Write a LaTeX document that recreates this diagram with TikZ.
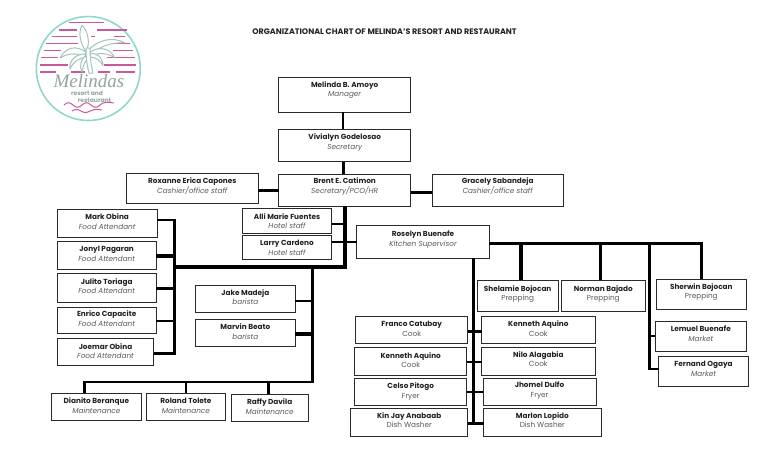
\documentclass[tikz,border=0pt]{standalone}
\usepackage{fontspec}
\setmainfont{Poppins}
\newfontfamily\logofont{Liberation Serif}
\definecolor{rolegrey}{HTML}{5A5A5A}
\definecolor{namedark}{HTML}{222222}
\definecolor{boxedge}{HTML}{2A2A2A}
\definecolor{logoteal}{HTML}{8FD8CE}
\definecolor{logopink}{HTML}{C9599F}
\definecolor{logoleaf}{HTML}{A3C4BC}
\definecolor{logotext}{HTML}{93A5A1}
\tikzset{
  bx/.style={draw=boxedge,line width=.8pt,inner sep=0pt,outer sep=0pt,anchor=north west,fill=white},
  ln/.style={line width=2.7pt,black},
  lnthick/.style={line width=3.6pt,black},
  lnthin/.style={line width=2.2pt,black},
  stripe/.style={logopink,line width=1.2pt},
  leaf/.style={logoleaf,line width=1pt,fill=white,line join=round},
}
% name, x1, y1, x2, y2, top offset, person, role font, role
\newcommand{\orgbox}[9]{%
  \pgfmathsetmacro{\bw}{#4-#2}\pgfmathsetmacro{\bh}{#5-#3}%
  \node[bx] (#1) at (#2,#3) {\parbox[c][\bh pt][t]{\bw pt}{\centering\fontsize{7.3}{9.5}\selectfont
    \vspace*{#6pt}\rule{0pt}{6pt}{\color{namedark}\fontseries{sb}\selectfont #7}\\{\color{rolegrey}#8 #9}\par}};%
}
\begin{document}
\begin{tikzpicture}[x=1pt,y=-1pt]
\useasboundingbox (0,0) rectangle (768,466);
\fill[white] (0,0) rectangle (768,466);

% logo
\draw[logoteal,line width=1.6pt] (88.3,68.5) circle (52);
\foreach \y/\a/\b in {22.3/68.5/104.3, 30/58.5/76.5, 30/96.5/126.5, 36.7/51.5/76.5, 36.7/91/95, 36.7/113.5/124.5,
  43.3/46/78, 43.3/108.5/129.5, 50.7/43.5/61, 50.7/112.5/132.5, 57.7/41/57.5, 57.7/106.5/134.5,
  65/39.5/67.5, 65/103.5/136, 72/40/56, 72/71/85, 72/97.5/110, 72/116/135}
  \draw[stripe] (\a,\y) -- (\b,\y);
% palm
\draw[leaf] (82,25) .. controls (78,33) and (80,42) .. (86,52) .. controls (90,44) and (89,33) .. (82,25) -- cycle;
\draw[leaf] (86,52) .. controls (76,45) and (66,47) .. (60,58) .. controls (68,53) and (76,53) .. (85,56) -- cycle;
\draw[leaf] (85,54) .. controls (76,54) and (69,60) .. (70,69) .. controls (73,62) and (79,58) .. (86,57) -- cycle;
\draw[leaf] (85,56) .. controls (81,60) and (79,66) .. (82,72) .. controls (83,66) and (85,61) .. (88,58) -- cycle;
\draw[leaf] (89,50) .. controls (97,40) and (113,36) .. (125,43) .. controls (112,42) and (100,46) .. (90,55) -- cycle;
\draw[leaf] (90,52) .. controls (99,46) and (110,48) .. (115,58) .. controls (108,53) and (99,52) .. (91,56) -- cycle;
\draw[leaf] (90,54) .. controls (97,52) and (103,58) .. (103,66) .. controls (100,60) and (96,57) .. (90,57) -- cycle;
\draw[leaf] (86,48) .. controls (86,57) and (87,65) .. (89,73) -- (93,73) .. controls (91,65) and (90,57) .. (90,48) -- cycle;
\node[inner sep=0pt,text=logotext] (logoname) at (89,81) {\logofont\itshape\fontsize{19}{19}\selectfont Melindas};
\node[inner sep=0pt,text=logotext] (logoa) at (87,93.3) {\fontseries{sb}\fontsize{6}{6}\selectfont resort and};
\node[inner sep=0pt,text=logotext] (logob) at (94.5,100) {\fontseries{sb}\fontsize{6}{6}\selectfont restaurant};
\draw[logopink,line width=1pt] (64,105) .. controls (67,102) and (70,102) .. (73,105) .. controls (76,108) and (79,108) .. (82,105) .. controls (85,102) and (88,102) .. (91,105) .. controls (94,108) and (97,108) .. (100,105) .. controls (103,102) and (106,102) .. (114,103);
\draw[logopink,line width=1pt] (72,111) .. controls (75,109) and (78,109) .. (81,111) .. controls (84,113) and (87,113) .. (90,111) .. controls (93,109) and (96,109) .. (102,110);

\node[inner sep=0pt] (title) at (384.5,32) {\color{namedark}\fontseries{sb}\fontsize{8}{9}\selectfont ORGANIZATIONAL CHART OF MELINDA'S RESORT AND RESTAURANT};

% boxes
\orgbox{melinda}{278.7}{77.3}{410.7}{112}{4}{Melinda B. Amoyo}{\itshape}{Manager}
\orgbox{vivialyn}{278.7}{129.3}{410.7}{161.7}{4.6}{Vivialyn Godelosao}{\itshape}{Secretary}
\orgbox{brent}{278.7}{174}{410.7}{206}{3.6}{Brent E. Catimon}{\itshape}{Secretary/PCO/HR}
\orgbox{roxanne}{126.3}{173}{258.3}{203.3}{4.6}{Roxanne Erica Capones}{\itshape}{Cashier/office staff}
\orgbox{gracely}{432}{174}{563.3}{206}{3.6}{Gracely Sabandeja}{\itshape}{Cashier/office staff}
\orgbox{mark}{57.3}{209.7}{157}{237}{4.2}{Mark Obina}{\itshape}{Food Attendant}
\orgbox{jonyl}{57.3}{241}{156}{269.3}{4.9}{Jonyl Pagaran}{\itshape}{Food Attendant}
\orgbox{julito}{57.3}{273.3}{156}{302}{5}{Julito Toriaga}{\itshape}{Food Attendant}
\orgbox{enrico}{57.3}{307}{156}{333.3}{3.7}{Enrico Capacite}{\itshape}{Food Attendant}
\orgbox{joemar}{57.3}{338.3}{153.7}{365.7}{4.8}{Joemar Obina}{\itshape}{Food Attendant}
\orgbox{alli}{242.3}{208.3}{331.7}{233}{4.8}{Alli Marie Fuentes}{\itshape}{Hotel staff}
\orgbox{larry}{242.3}{235.7}{331.7}{259.3}{3.9}{Larry Cardeno}{\itshape}{Hotel staff}
\orgbox{jake}{195.3}{285.7}{295.3}{312.3}{3.6}{Jake Madeja}{\itshape}{barista}
\orgbox{marvin}{195.3}{319}{295.3}{346.7}{4.9}{Marvin Beato}{\itshape}{barista}
\orgbox{dianito}{51}{393.3}{141.7}{420.7}{4.6}{Dianito Beranque}{\itshape}{Maintenance}
\orgbox{roland}{146.7}{393.3}{225}{420.7}{4.6}{Roland Tolete}{\itshape}{Maintenance}
\orgbox{raffy}{231}{394.3}{308.3}{421.7}{4.6}{Raffy Davila}{\itshape}{Maintenance}
\orgbox{roselyn}{356.7}{225.7}{489.3}{258.3}{4.9}{Roselyn Buenafe}{\itshape}{Kitchen Supervisor}
\orgbox{shelamie}{477}{280.3}{558.3}{311}{5}{Shelamie Bojocan}{}{Prepping}
\orgbox{norman}{561.3}{280.3}{645.3}{311.3}{5}{Norman Bajado}{}{Prepping}
\orgbox{sherwin}{656.3}{279.3}{746.3}{309}{4}{Sherwin Bojocan}{}{Prepping}
\orgbox{lemuel}{655.3}{321.3}{746.3}{351.7}{4.6}{Lemuel Buenafe}{\itshape}{Market}
\orgbox{fernand}{658.7}{356.7}{748.3}{386.3}{3.9}{Fernand Ogaya}{\itshape}{Market}
\orgbox{franco}{355.7}{316}{467.7}{343.7}{4.9}{Franco Catubay}{}{Cook}
\orgbox{kennetha}{481.7}{316}{595}{343.7}{4.9}{Kenneth Aquino}{}{Cook}
\orgbox{kennethb}{354.7}{347.3}{466.7}{375}{5}{Kenneth Aquino}{}{Cook}
\orgbox{nilo}{481.7}{347.3}{595}{375}{4}{Nilo Alagabia}{}{Cook}
\orgbox{celso}{354.7}{378}{466.7}{405.7}{4.9}{Celso Pitogo}{}{Fryer}
\orgbox{jhomel}{483}{378}{596}{405.7}{3.6}{Jhomel Dulfo}{}{Fryer}
\orgbox{kin}{350.7}{408.3}{467.7}{436.3}{4}{Kin Jay Anabaab}{}{Dish Washer}
\orgbox{marlon}{483.7}{408.3}{601}{436.3}{4}{Marlon Lopido}{}{Dish Washer}

% junctions
\coordinate (j1) at (345,267);
\coordinate (j2) at (174.5,267);
\coordinate (j3) at (312.3,267);
\coordinate (j4) at (312.3,382);
\coordinate (j5) at (84.3,382);
\coordinate (k1) at (473.3,423.3);
\coordinate (k2) at (701.7,243.7);
\coordinate (k3) at (649.7,243.7);
\coordinate (k4) at (649.7,369);

% connectors
\draw[ln] (melinda.south -| 343,0) -- (vivialyn.north -| 343,0);
\draw[ln] (vivialyn.south -| 343.5,0) -- (brent.north -| 343.5,0);
\draw[lnthick] (roxanne.east |- 0,190.5) -- (brent.west |- 0,190.5);
\draw[lnthick] (brent.east |- 0,192.5) -- (gracely.west |- 0,192.5);
\draw[lnthick,line join=miter] (brent.south -| j1) -- (j1) -- (j2);
\draw[lnthin] (alli.east |- 0,224) -- (j1 |- 0,224);
\draw[lnthin] (larry.east |- 0,242.3) -- (roselyn.west |- 0,242.3);
\draw[ln] (mark.east |- 0,220) -- (j2 |- 0,220) -- (j2 |- 0,353.7) -- (joemar.east |- 0,353.7);
\draw[lnthick] (jonyl.east |- 0,256) -- (j2 |- 0,256);
\draw[lnthin] (julito.east |- 0,288.5) -- (j2 |- 0,288.5);
\draw[lnthin] (enrico.east |- 0,321) -- (j2 |- 0,321);
\draw[ln] (j3) -- (j4) -- (j5) -- (j5 |- dianito.north);
\draw[lnthin] (jake.east |- 0,301) -- (j3 |- 0,301);
\draw[lnthick] (marvin.east |- 0,333.7) -- (j3 |- 0,333.7);
\draw[ln] (186,382) -- (roland.north -| 186,0);
\draw[ln] (268.7,382) -- (raffy.north -| 268.7,0);
\draw[ln] (roselyn.east |- k2) -- (k2) -- (k2 |- sherwin.north);
\draw[lnthick] (521,243.7) -- (shelamie.north -| 521,0);
\draw[ln] (600.7,243.7) -- (norman.north -| 600.7,0);
\draw[ln] (k3) -- (k4) -- (fernand.west |- k4);
\draw[lnthin] (k3 |- 0,336.3) -- (lemuel.west |- 0,336.3);
\draw[ln] (roselyn.south -| k1) -- (k1);
\draw[lnthick] (franco.east |- 0,331.3) -- (kennetha.west |- 0,331.3);
\draw[lnthin] (kennethb.east |- 0,361.7) -- (nilo.west |- 0,361.7);
\draw[lnthin] (celso.east |- 0,391.7) -- (jhomel.west |- 0,391.7);
\draw[lnthick] (kin.east |- k1) -- (marlon.west |- k1);
\end{tikzpicture}
\end{document}
